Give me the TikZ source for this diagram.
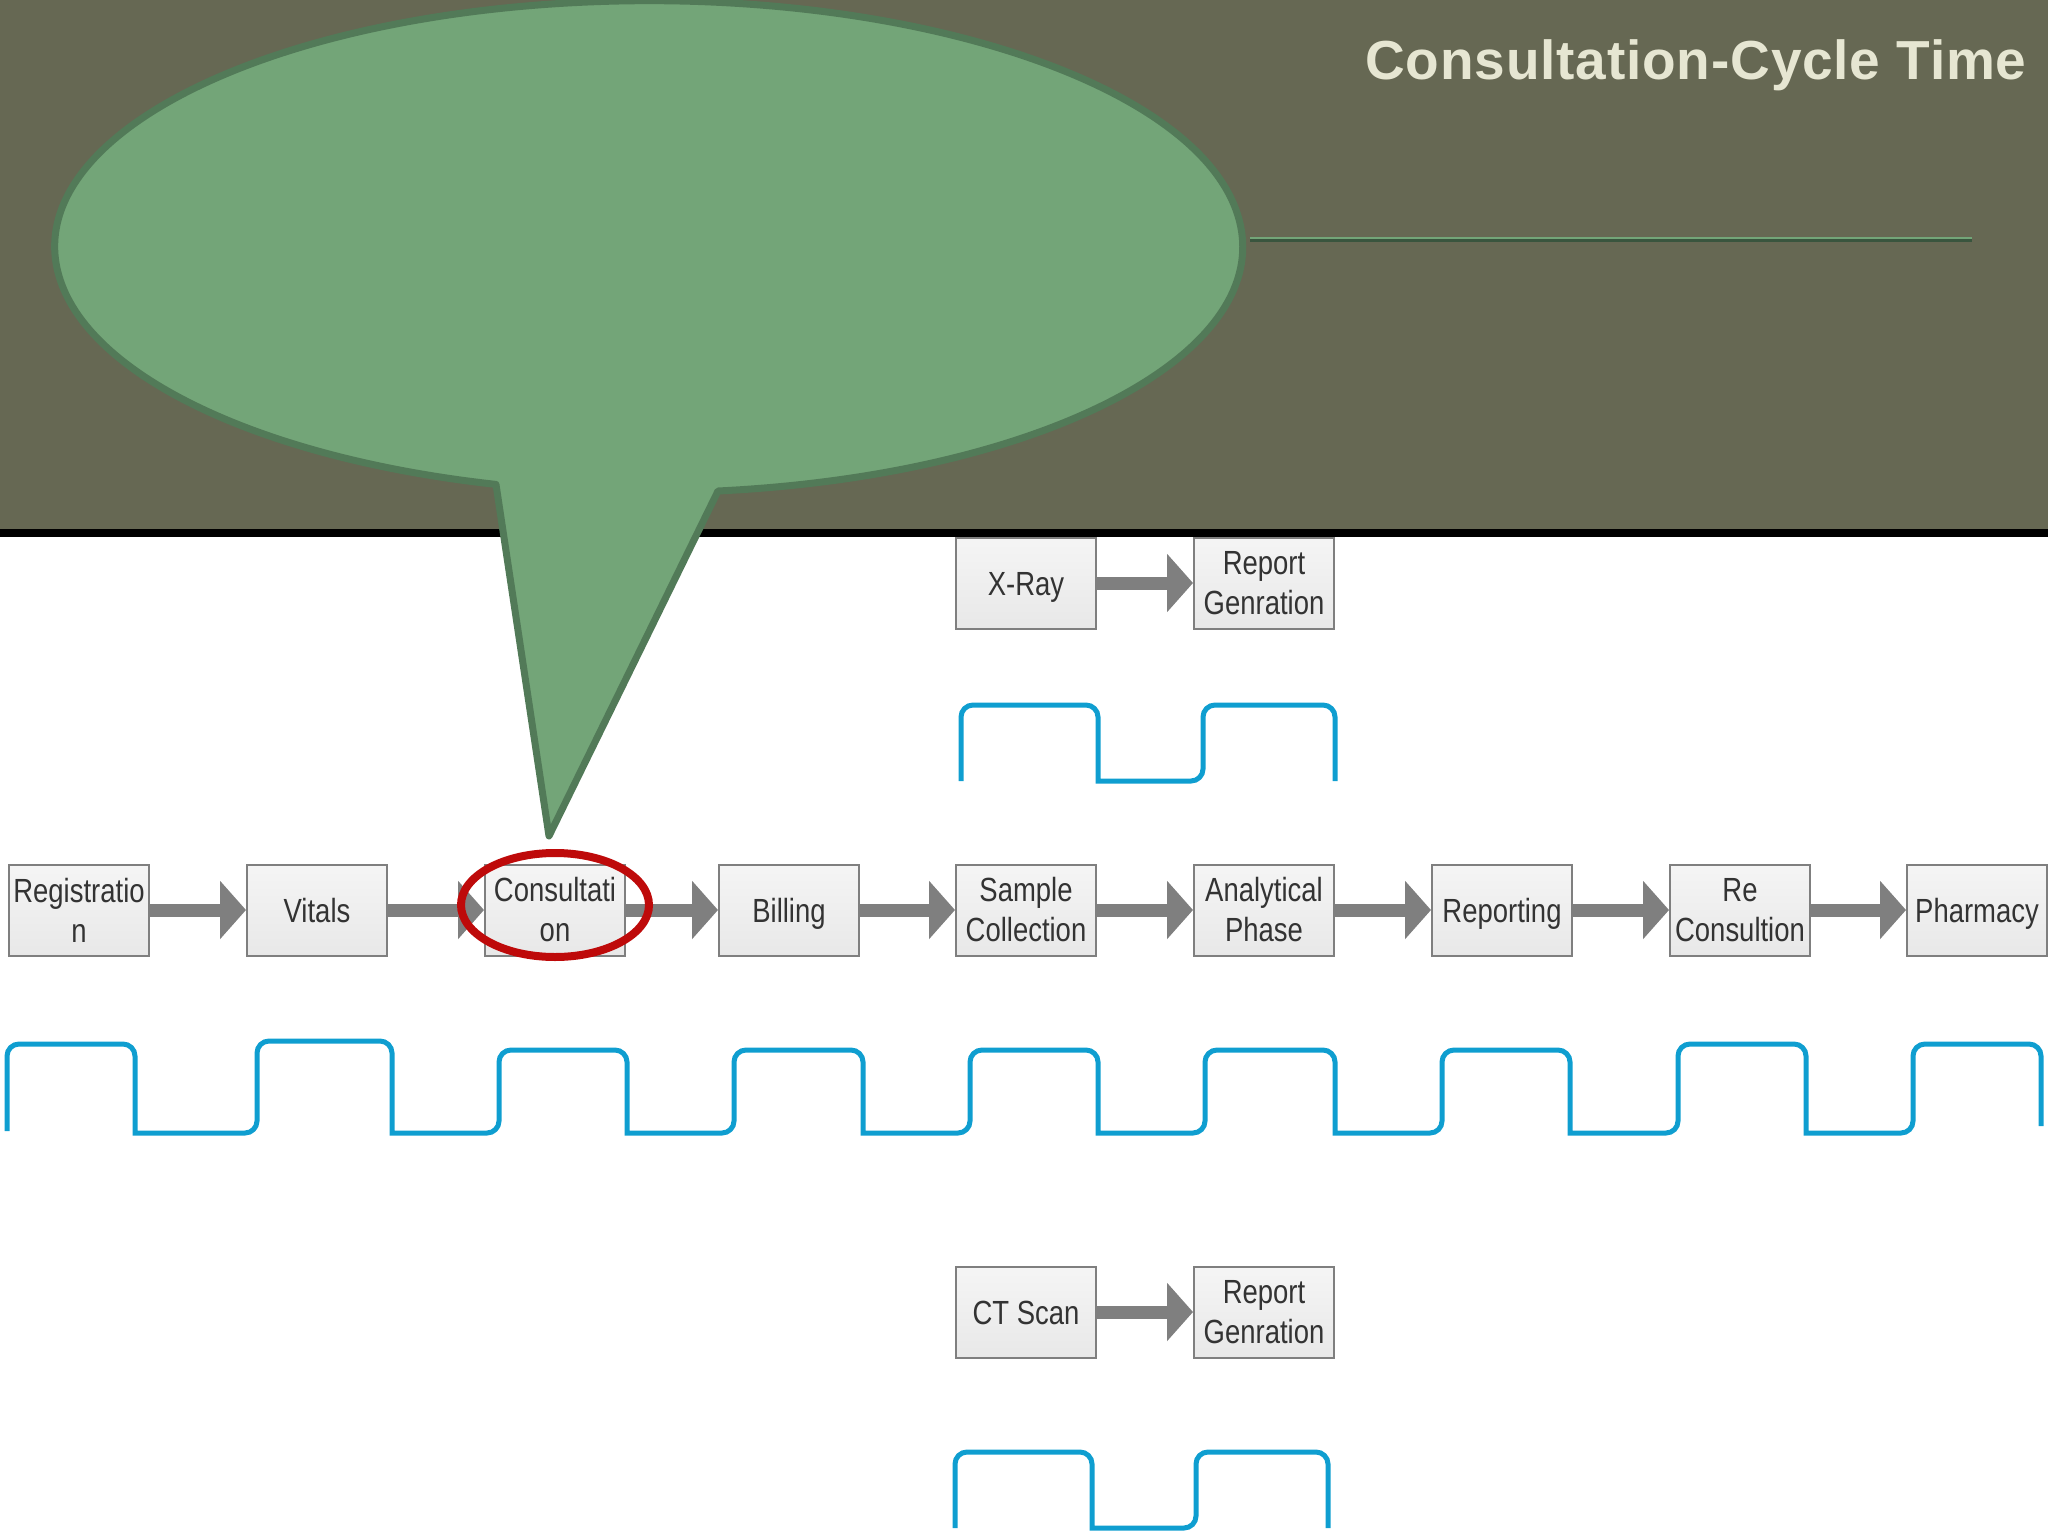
\documentclass[tikz,border=0pt]{standalone}
\usepackage{fontspec}
\usepackage{xcolor}
\usetikzlibrary{arrows.meta}
\setmainfont{Liberation Sans}
\newfontfamily\boxfont[FakeStretch=0.82]{Liberation Sans}
\definecolor{bandcol}{HTML}{666853}
\definecolor{bubblecol}{HTML}{73A578}
\definecolor{bubbleedge}{HTML}{527A58}
\definecolor{pulsecol}{HTML}{0F9ED0}
\definecolor{arrowcol}{HTML}{7F7F7F}
\definecolor{circlecol}{HTML}{BE0A0A}
\definecolor{titlecol}{HTML}{E6E6D2}
\tikzset{
  procbox/.style={draw=arrowcol,line width=2pt,top color=gray!8,bottom color=gray!18,
    minimum width=140pt,minimum height=91pt,inner sep=0pt,align=center,
    text=black!80,font=\boxfont\fontsize{33.5}{40}\selectfont},
  oneline/.style={text height=25pt,text depth=0pt},
  flow/.style={draw=arrowcol,line width=13pt,-{Triangle[length=26pt,width=57pt]}},
  pulse/.style={draw=pulsecol,line width=5pt,rounded corners=12pt}
}
\begin{document}
\begin{tikzpicture}[x=1pt,y=1pt]
        \useasboundingbox (0,0) rectangle (2048,-1536);
        \fill[bandcol] (0,0) rectangle (2048,-529);
        \fill[black] (0,-529) rectangle (2048,-537);

        \node[anchor=base east,text=titlecol,font=\bfseries\fontsize{55}{60}\selectfont] (title) at (2030,-80) {\addfontfeature{LetterSpace=1.5}Consultation-Cycle Time};

        % leader line
        \coordinate (leadstart) at (1250,-239);
        \coordinate (leadend) at (1972,-239);
        \draw[bubbleedge!70!black,line width=5pt] (leadstart)--(leadend);
        \draw[bubblecol,line width=2.5pt] ([yshift=1pt]leadstart)--([yshift=1pt]leadend);

        % main row
        \node[procbox] (reg) at (79,-910) {Registratio\\n};
        \node[procbox,oneline] (vitals) at (317,-910) {Vitals};
        \node[procbox] (consult) at (555,-910) {Consultati\\on};
        \node[procbox,oneline] (billing) at (789,-910) {Billing};
        \node[procbox] (sample) at (1026,-910) {Sample\\Collection};
        \node[procbox] (analytic) at (1264,-910) {Analytical\\Phase};
        \node[procbox,oneline] (reporting) at (1502,-910) {Reporting};
        \node[procbox] (recons) at (1740,-910) {Re\\Consultion};
        \node[procbox,oneline] (pharmacy) at (1977,-910) {Pharmacy};

        \draw[flow] (reg)--(vitals);
        \draw[flow] (vitals)--(consult);
        \draw[flow] (consult)--(billing);
        \draw[flow] (billing)--(sample);
        \draw[flow] (sample)--(analytic);
        \draw[flow] (analytic)--(reporting);
        \draw[flow] (reporting)--(recons);
        \draw[flow] (recons)--(pharmacy);

        % branches
        \node[procbox,oneline] (xray) at (1026,-583) {X-Ray};
        \node[procbox] (xreport) at (1264,-583) {Report\\Genration};
        \draw[flow] (xray)--(xreport);
        \node[procbox,oneline] (ctscan) at (1026,-1312) {CT Scan};
        \node[procbox] (ctreport) at (1264,-1312) {Report\\Genration};
        \draw[flow] (ctscan)--(ctreport);

        % cycle time pulses
        \draw[pulse] (7,-1131)--(7,-1044)--(135,-1044)[sharp corners]--(135,-1133)[rounded corners=12pt]--(257,-1133)--(257,-1041)--(392,-1041)[sharp corners]--(392,-1133)[rounded corners=12pt]--(499,-1133)--(499,-1050)--(627,-1050)[sharp corners]--(627,-1133)[rounded corners=12pt]--(734,-1133)--(734,-1050)--(863,-1050)[sharp corners]--(863,-1133)[rounded corners=12pt]--(970,-1133)--(970,-1050)--(1098,-1050)[sharp corners]--(1098,-1133)[rounded corners=12pt]--(1205,-1133)--(1205,-1050)--(1335,-1050)[sharp corners]--(1335,-1133)[rounded corners=12pt]--(1442,-1133)--(1442,-1050)--(1570,-1050)[sharp corners]--(1570,-1133)[rounded corners=12pt]--(1678,-1133)--(1678,-1044)--(1806,-1044)[sharp corners]--(1806,-1133)[rounded corners=12pt]--(1913,-1133)--(1913,-1044)--(2041,-1044)--(2041,-1126);
        \draw[pulse] (961,-781)--(961,-705)--(1098,-705)[sharp corners]--(1098,-781)[rounded corners=12pt]--(1203,-781)--(1203,-705)--(1335,-705)--(1335,-781);
        \draw[pulse] (955,-1528)--(955,-1452)--(1092,-1452)[sharp corners]--(1092,-1528)[rounded corners=12pt]--(1196,-1528)--(1196,-1452)--(1328,-1452)--(1328,-1528);

        % highlight
        \draw[circlecol,line width=8pt] (555,-905) circle[x radius=94pt,y radius=52pt];

        % callout
        \draw[fill=bubblecol,draw=bubbleedge,line width=7pt,line join=round] (549,-836)--(718,-491) arc[start angle=-83.3,end angle=255.1,x radius=594pt,y radius=246pt]--cycle;
\end{tikzpicture}
\end{document}
